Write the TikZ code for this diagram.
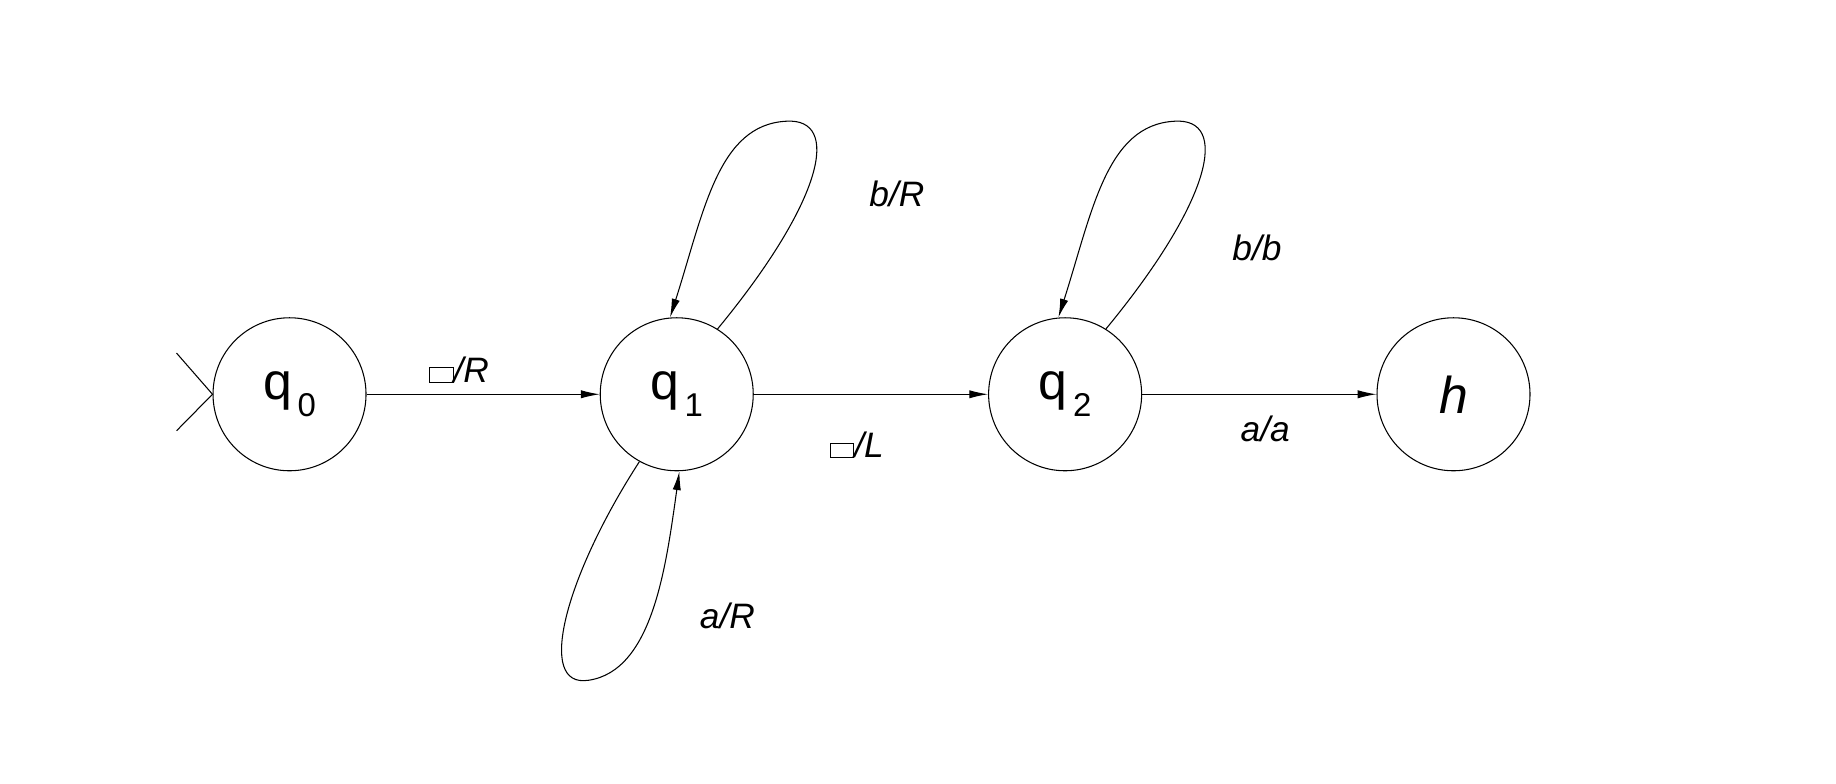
\documentclass[tikz,border=0pt]{standalone}
\usepackage{fontspec}
\setmainfont{Liberation Sans}
\usetikzlibrary{arrows.meta}
\begin{document}
\begin{tikzpicture}[x=1pt,y=-1pt,
  state/.style={circle,draw,line width=0.9pt,minimum size=130pt,inner sep=0pt},
  edge/.style={line width=0.9pt,-{Latex[length=16pt,width=7pt]}},
  lbl/.style={font=\fontsize{30}{34}\selectfont\itshape},
  st/.style={font=\fontsize{44}{48}\selectfont}]
\useasboundingbox (0,0) rectangle (1560,666);
\newcommand{\blk}{\tikz[baseline=0pt]\draw[line width=0.9pt] (0,0) rectangle (20pt,12pt);}
\node[state] (q0) at (246,335) {};
\node[state] (q1) at (575,335) {};
\node[state] (q2) at (905,335) {};
\node[state] (h) at (1235,335) {};
\node[st] (t0) at (246,335) {q\raisebox{-14pt}{\fontsize{28}{30}\selectfont\,0}};
\node[st] (t1) at (575,335) {q\raisebox{-14pt}{\fontsize{28}{30}\selectfont\,1}};
\node[st] (t2) at (905,335) {q\raisebox{-14pt}{\fontsize{28}{30}\selectfont\,2}};
\node[st] (th) at (1235,335) {\itshape h};
\coordinate (s1) at (150,300);
\coordinate (s2) at (150,366);
\draw[line width=0.9pt] (s1) -- (q0.west) -- (s2);
\draw[edge] (q0) -- (q1);
\draw[edge] (q1) -- (q2);
\draw[edge] (q2) -- (h);
\node[lbl] (l1) at (390,314) {\blk/R};
\node[lbl] (l2) at (728,378) {\blk/L};
\node[lbl] (l3) at (1075,364) {a/a};
\node[lbl] (l4) at (762,165) {b/R};
\node[lbl] (l5) at (1068,211) {b/b};
\node[lbl] (l6) at (618,523) {a/R};
\draw[edge] (q1.58) .. controls (700,170) and (715,100) .. (668,103)
  .. controls (610,106) and (598,180) .. (q1.95);
\draw[edge] (q2.58) .. controls (1030,170) and (1045,100) .. (998,103)
  .. controls (940,106) and (928,180) .. (q2.95);
\draw[edge] (q1.241) .. controls (480,490) and (455,585) .. (500,578)
  .. controls (555,570) and (566,480) .. (q1.-88);
\end{tikzpicture}
\end{document}
